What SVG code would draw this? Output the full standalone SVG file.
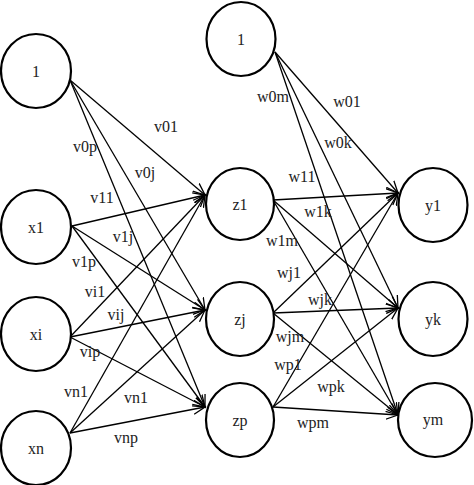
<svg xmlns="http://www.w3.org/2000/svg" width="474" height="485" viewBox="0 0 474 485">
<style>
.n{fill:#fff;stroke:#000;stroke-width:2.2}
.e{stroke:#000;stroke-width:1.3;fill:none;marker-end:url(#a)}
</style>
<defs>
<marker id="a" markerUnits="userSpaceOnUse" markerWidth="14" markerHeight="12" refX="12" refY="5" orient="auto" viewBox="0 0 14 10">
<path d="M0,0 L12,5 L0,10" fill="none" stroke="#000" stroke-width="1.3"/>
</marker>
</defs>
<rect width="474" height="485" fill="#fff"/>
<g id="connectors">
<line class="e" x1="70" y1="80" x2="205" y2="195"/>
<line class="e" x1="70" y1="80" x2="205" y2="310"/>
<line class="e" x1="70" y1="80" x2="205" y2="407"/>
<line class="e" x1="72" y1="226" x2="205" y2="195"/>
<line class="e" x1="72" y1="226" x2="205" y2="310"/>
<line class="e" x1="72" y1="226" x2="205" y2="407"/>
<line class="e" x1="70" y1="337" x2="205" y2="195"/>
<line class="e" x1="70" y1="337" x2="205" y2="310"/>
<line class="e" x1="70" y1="337" x2="205" y2="407"/>
<line class="e" x1="70" y1="433" x2="205" y2="195"/>
<line class="e" x1="70" y1="433" x2="205" y2="310"/>
<line class="e" x1="70" y1="433" x2="205" y2="407"/>
<line class="e" x1="275" y1="52" x2="398" y2="193"/>
<line class="e" x1="275" y1="52" x2="398" y2="308"/>
<line class="e" x1="275" y1="52" x2="398" y2="415"/>
<line class="e" x1="273" y1="200" x2="398" y2="193"/>
<line class="e" x1="273" y1="200" x2="398" y2="308"/>
<line class="e" x1="273" y1="200" x2="398" y2="415"/>
<line class="e" x1="273" y1="313" x2="398" y2="193"/>
<line class="e" x1="273" y1="313" x2="398" y2="308"/>
<line class="e" x1="273" y1="313" x2="398" y2="415"/>
<line class="e" x1="273" y1="407" x2="398" y2="193"/>
<line class="e" x1="273" y1="407" x2="398" y2="308"/>
<line class="e" x1="273" y1="407" x2="398" y2="415"/>
</g>
<g font-family="Liberation Serif, DejaVu Serif, serif" font-size="16" fill="#222" text-anchor="middle">
<g id="edge-labels">
<text x="166" y="132">v01</text>
<text x="85" y="152">v0p</text>
<text x="145" y="178">v0j</text>
<text x="102" y="203">v11</text>
<text x="123" y="242">v1j</text>
<text x="84" y="267">v1p</text>
<text x="95" y="297">vi1</text>
<text x="116" y="320">vij</text>
<text x="90" y="357">vip</text>
<text x="76" y="397">vn1</text>
<text x="136" y="403">vn1</text>
<text x="126" y="443">vnp</text>
<text x="273" y="102">w0m</text>
<text x="347" y="107">w01</text>
<text x="338" y="148">w0k</text>
<text x="302" y="182">w11</text>
<text x="318" y="217">w1k</text>
<text x="282" y="246">w1m</text>
<text x="289" y="278">wj1</text>
<text x="320" y="305">wjk</text>
<text x="290" y="342">wjm</text>
<text x="288" y="370">wp1</text>
<text x="331" y="392">wpk</text>
<text x="313" y="428">wpm</text>
</g>
<g id="bias-in"><ellipse class="n" cx="36" cy="71" rx="35" ry="37"/><text x="36" y="77">1</text></g>
<g id="x1"><ellipse class="n" cx="36" cy="227" rx="35" ry="37"/><text x="36" y="233">x1</text></g>
<g id="xi"><ellipse class="n" cx="36" cy="334" rx="35" ry="37"/><text x="36" y="340">xi</text></g>
<g id="xn"><ellipse class="n" cx="36" cy="448" rx="35" ry="37"/><text x="36" y="454">xn</text></g>
<g id="bias-hid"><ellipse class="n" cx="241" cy="39" rx="34.5" ry="37"/><text x="241" y="45">1</text></g>
<g id="z1"><ellipse class="n" cx="240" cy="204" rx="34" ry="36"/><text x="240" y="210">z1</text></g>
<g id="zj"><ellipse class="n" cx="240" cy="319" rx="34" ry="37"/><text x="240" y="325">zj</text></g>
<g id="zp"><ellipse class="n" cx="240" cy="420" rx="34" ry="37"/><text x="240" y="426">zp</text></g>
<g id="y1"><ellipse class="n" cx="433" cy="205" rx="34.5" ry="37"/><text x="433" y="211">y1</text></g>
<g id="yk"><ellipse class="n" cx="433" cy="319" rx="34.5" ry="37"/><text x="433" y="325">yk</text></g>
<g id="ym"><ellipse class="n" cx="435" cy="420" rx="37" ry="37"/><text x="433" y="425">ym</text></g>
</g>
</svg>
